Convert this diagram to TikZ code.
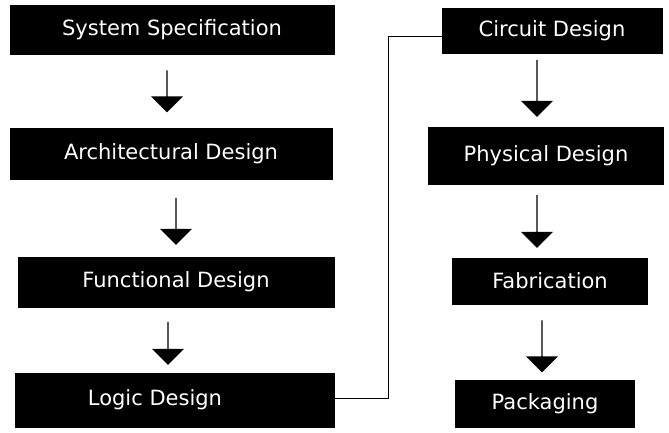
\documentclass[tikz,border=0pt]{standalone}
\usepackage{fontspec}
\setmainfont{DejaVu Sans}
\usetikzlibrary{shapes.arrows}
\begin{document}
\begin{tikzpicture}[x=1pt,y=1pt,inner sep=0pt,
  stage/.style={fill=black,text=white,font=\fontsize{21}{24}\selectfont},
  down/.style={single arrow,fill=black,shape border rotate=270,
    minimum width=32pt,single arrow head extend=5pt,single arrow head indent=0pt}]
\useasboundingbox (0,0) rectangle (669,-433);
\node[stage,minimum width=325,minimum height=50] (ss) at (172,-30) {System Specification};
\node[stage,minimum width=323,minimum height=52] (ad) at (171,-154) {Architectural Design};
\node[stage,minimum width=317,minimum height=51] (fd) at (176,-282) {Functional Design};
\node[stage,minimum width=320,minimum height=55] (ld) at (175,-400) {\hspace*{-40pt}Logic Design};
\node[stage,minimum width=221,minimum height=46] (cd) at (552,-31) {Circuit Design};
\node[stage,minimum width=236,minimum height=58] (pd) at (546,-156) {Physical Design};
\node[stage,minimum width=196,minimum height=47] (fb) at (550,-281) {Fabrication};
\node[stage,minimum width=180,minimum height=48] (pk) at (545,-404) {Packaging};
\node[down,minimum height=42] (a1) at (167,-91) {};
\node[down,minimum height=47] (a2) at (176,-221) {};
\node[down,minimum height=43] (a3) at (168,-343) {};
\node[down,minimum height=57] (a4) at (537,-88) {};
\node[down,minimum height=53] (a5) at (537,-221) {};
\node[down,minimum height=52] (a6) at (542,-346) {};
\coordinate (ldout) at (335,-398);
\coordinate (cdin) at (442,-36);
\draw[thin] (ldout) -| (388,-36) -- (cdin);
\end{tikzpicture}
\end{document}
